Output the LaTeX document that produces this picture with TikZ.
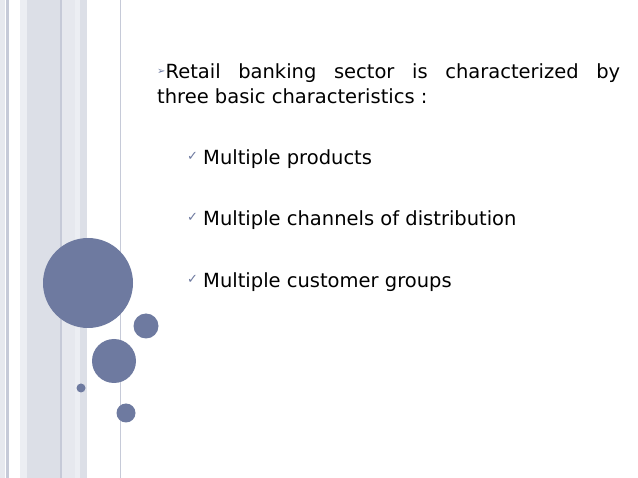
\documentclass[tikz,border=0pt]{standalone}
\usepackage{fontspec}
\setmainfont{DejaVu Sans}
\definecolor{dot}{HTML}{6E7AA0}
\definecolor{s1}{HTML}{E6E8EE}
\definecolor{s2}{HTML}{DCDFE7}
\definecolor{s3}{HTML}{C6CAD8}
\definecolor{s4}{HTML}{ECEEF3}
\newcommand{\chkmark}{\makebox[16pt][l]{\raisebox{4pt}{\color{dot}\fontsize{13}{13}\selectfont ✓}}}
\begin{document}
\begin{tikzpicture}[x=1pt,y=-1pt,
  dotc/.style={fill=dot,draw=none},
  txt/.style={anchor=base west,inner sep=0,align=left,font=\fontsize{19.5}{25}\selectfont}]
\useasboundingbox (0,0) rectangle (638,478);
\fill[white] (0,0) rectangle (638,478);
\fill[s1] (0,0) rectangle (5,478);
\fill[s3] (6,0) rectangle (9,478);
\fill[s4] (20,0) rectangle (27,478);
\fill[s2] (27,0) rectangle (60,478);
\fill[s3] (60,0) rectangle (62,478);
\fill[s1] (62,0) rectangle (75,478);
\fill[s4] (75,0) rectangle (80,478);
\fill[s2] (80,0) rectangle (87,478);
\fill[s3] (119.5,0) rectangle (120.5,478);
\fill[dotc] (88,283) circle (45);
\fill[dotc] (146,326) circle (12.5);
\fill[dotc] (114,361) circle (22);
\fill[dotc] (81,388) circle (4.5);
\fill[dotc] (126,413) circle (9.5);
\node[txt] (t1) at (157,104) {\makebox[463pt][s]{\raisebox{4pt}{\fontsize{10}{10}\selectfont\color{dot}➢}Retail banking sector is characterized by}\\three basic characteristics :};
\node[txt] (b1) at (187,165) {\chkmark Multiple products};
\node[txt] (b2) at (187,226) {\chkmark Multiple channels of distribution};
\node[txt] (b3) at (187,288) {\chkmark Multiple customer groups};
\end{tikzpicture}
\end{document}
